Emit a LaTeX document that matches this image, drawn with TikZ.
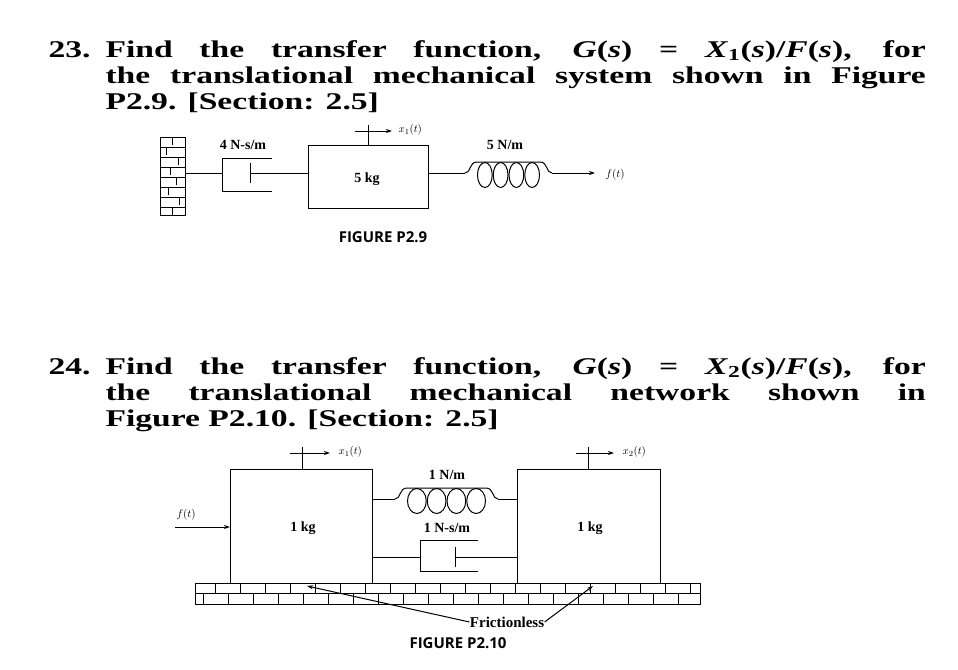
\documentclass[tikz,border=0pt]{standalone}
\usepackage{fontspec}
\setmainfont{Liberation Serif}
\newfontfamily\figfont{Open Sans}
\usetikzlibrary{arrows.meta}
\newcommand{\mi}[1]{\textit{#1}}
\newcommand{\wide}[1]{\scalebox{1.4}[1]{#1}}
% spring: start x, end x, y
\newcommand{\myspring}[3]{%
  \pgfmathsetmacro{\sa}{#1}\pgfmathsetmacro{\sb}{#2}%
  \pgfmathsetmacro{\w}{(\sb-\sa-24)/4}%
  \draw (#1,#3) .. controls (#1+6,#3) and (#1+4,#3-11) .. (#1+12,#3-11) -- (#2-12,#3-11) .. controls (#2-4,#3-11) and (#2-6,#3) .. (#2,#3);
  \foreach \i in {0,1,2,3} \draw (\sa+12+\w*\i+\w/2,#3+2) ellipse [x radius=\w/2-0.5, y radius=12.5];
}
\begin{document}
\begin{tikzpicture}[x=1pt,y=-1pt,line width=1pt,
  qtext/.style={anchor=base west,inner sep=0pt,font=\fontsize{24}{28}\selectfont\bfseries},
  lab/.style={inner sep=0pt,font=\fontsize{14}{16}\selectfont\bfseries},
  tiny/.style={inner sep=0pt,anchor=west,font=\fontsize{11}{12}\selectfont\itshape},
  figcap/.style={inner sep=0pt,font=\fontsize{15}{18}\selectfont\figfont\bfseries},
  mass/.style={draw},
  arr/.style={-{Stealth[length=6pt,width=4pt]}}]
\useasboundingbox (0,0) rectangle (958,669);
% ---- Problem 23
\node[qtext] (n23) at (48,57) {\wide{23.}};
\node[qtext] (l1) at (105,57) {\wide{\makebox[586pt][s]{Find the transfer function, \mi{G}(\mi{s}) = \mi{X}\textsubscript{1}(\mi{s})/\mi{F}(\mi{s}), for}}};
\node[qtext] (l2) at (105,83) {\wide{\makebox[586pt][s]{the translational mechanical system shown in Figure}}};
\node[qtext] (l3) at (105,109) {\wide{P2.9. [Section: 2.5]}};
% wall
\draw (160,137) rectangle (185,215);
\foreach \y in {147,157,167,177,187,197,207} \draw[line width=0.5pt] (160,\y) -- (185,\y);
\foreach \y/\x in {137/172,147/166,157/178,167/170,177/176,187/168,197/179,207/172} \draw[line width=0.5pt] (\x,\y) -- (\x,\y+8);
% mass
\node[mass,minimum width=120pt,minimum height=63pt] (m1) at (368,176.5) {};
\node[lab] (m1l) at (367,179) {5 kg};
% damper
\coordinate (wd) at (185,173);
\draw (wd) -- (222,173);
\draw (272,158) -- (222,158) -- (222,191) -- (272,191);
\draw (250,163) -- (250,183);
\draw (250,173) -- (m1.west |- 0,173);
\node[lab] (d1) at (243,145) {4 N-s/m};
% spring
\coordinate (s1a) at (428,173);
\coordinate (s1b) at (465,173);
\coordinate (s1c) at (552,173);
\coordinate (f1) at (595,173);
\draw (s1a) -- (s1b);
\myspring{465}{552}{173}
\draw[arr] (s1c) -- (f1);
\node[tiny] (f1l) at (605,175) {$f(t)$};
\node[lab] (k1) at (505,145) {5 N/m};
% x1 marker
\draw (368,125) -- (m1.north);
\coordinate (xa) at (355,131); \coordinate (xb) at (392,131);
\draw[arr] (xa) -- (xb);
\node[tiny] (x1l) at (398,130) {$x_1(t)$};
\node[figcap] (c1) at (383,237) {FIGURE P2.9};
% ---- Problem 24
\node[qtext] (n24) at (48,374) {\wide{24.}};
\node[qtext] (p1) at (105,374) {\wide{\makebox[586pt][s]{Find the transfer function, \mi{G}(\mi{s}) = \mi{X}\textsubscript{2}(\mi{s})/\mi{F}(\mi{s}), for}}};
\node[qtext] (p2) at (105,400) {\wide{\makebox[586pt][s]{the translational mechanical network shown in}}};
\node[qtext] (p3) at (105,426) {\wide{Figure P2.10. [Section: 2.5]}};
% floor
\draw (195,583) rectangle (700,604);
\draw[line width=0.5pt] (195,593) -- (700,593);
\foreach \x in {215,240,265,290,315,340,365,390,415,440,465,490,515,540,565,590,615,640,665,690} \draw[line width=0.5pt] (\x,583) -- (\x,593);
\foreach \x in {203,228,253,278,303,328,353,378,403,428,453,478,503,528,553,578,603,628,653,678} \draw[line width=0.5pt] (\x,593) -- (\x,604);
% masses
\draw (230,583) -- (230,469) -- (372,469) -- (372,583);
\draw (517,583) -- (517,469) -- (660,469) -- (660,583);
\coordinate (mA) at (372,499); \coordinate (mB) at (517,499);
\node[lab] (ma) at (303,528) {1 kg};
\node[lab] (mb) at (590,528) {1 kg};
% spring
\draw (mA) -- (395,499);
\myspring{395}{498}{499}
\draw (498,499) -- (mB);
\node[lab] (k2) at (447,475) {1 N/m};
% damper
\draw (372,557) -- (420,557);
\draw (478,540) -- (420,540) -- (420,571) -- (478,571);
\draw (455,547) -- (455,567);
\draw (455,557) -- (517,557);
\node[lab] (d2) at (447,528) {1 N-s/m};
% force
\coordinate (fa) at (175,527); \coordinate (fb) at (230,527);
\draw[arr] (fa) -- (fb);
\node[tiny] (fl) at (176,515) {$f(t)$};
% markers
\draw (302,447) -- (302,470);
\draw[arr] (290,453) -- (330,453);
\node[tiny] (x1b) at (338,452) {$x_1(t)$};
\draw (588,447) -- (588,470);
\draw[arr] (576,453) -- (614,453);
\node[tiny] (x2b) at (622,452) {$x_2(t)$};
% frictionless
\node[lab,font=\fontsize{15}{17}\selectfont\bfseries] (fr) at (507,622) {Frictionless};
\coordinate (ta) at (307,586); \coordinate (tb) at (593,586);
\draw[arr] (fr.west) -- (ta);
\draw[arr] (fr.east) -- (tb);
\node[figcap] (c2) at (458,643) {FIGURE P2.10};
\end{tikzpicture}
\end{document}
